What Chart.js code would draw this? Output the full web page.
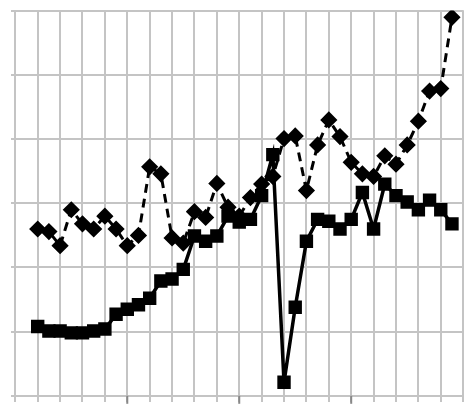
<!DOCTYPE html>
<html><head><meta charset="utf-8">
<script src="https://cdn.jsdelivr.net/npm/chart.js@4/dist/chart.umd.min.js"></script>
<style>html,body{margin:0;padding:0;background:#fff}#w{width:474px;height:412px}</style>
</head><body><div id="w"><canvas id="c"></canvas></div>
<script>
const categories = Array.from({length:38},(_,i)=>i);
const solidSeries = [1.08,1.01,1.01,0.98,0.98,1.01,1.04,1.27,1.35,1.42,1.52,1.79,1.82,1.97,2.49,2.41,2.49,2.80,2.71,2.75,3.12,3.76,0.21,1.38,2.41,2.75,2.72,2.60,2.75,3.17,2.60,3.30,3.12,3.02,2.90,3.05,2.90,2.68];
const dashedSeries = [2.60,2.56,2.34,2.90,2.68,2.60,2.80,2.60,2.34,2.50,3.57,3.46,2.46,2.38,2.87,2.78,3.31,2.94,2.80,3.09,3.30,3.42,4.01,4.05,3.20,3.91,4.30,4.04,3.64,3.46,3.42,3.74,3.61,3.91,4.28,4.75,4.79,5.90];
const majorTicks = [8,18,28];

const tickPlugin = {id:'tk',afterDraw(ch){
  const c=ch.ctx,x=ch.scales.x,y=ch.scales.y;c.save();c.strokeStyle='#888';c.lineWidth=2;
  const y0=y.getPixelForValue(0);
  majorTicks.forEach(t=>{const px=x.getPixelForValue(t);c.beginPath();c.moveTo(px,y0);c.lineTo(px,y0+8);c.stroke();});
  c.restore();}};

new Chart(document.getElementById('c'),{
  type:'line',
  data:{datasets:[
    {data:categories.map((x,i)=>({x,y:dashedSeries[i]})),borderColor:'#000',backgroundColor:'#000',borderWidth:3,borderDash:[9,6],pointStyle:'rectRot',pointRadius:6.5,tension:0},
    {data:categories.map((x,i)=>({x,y:solidSeries[i]})),borderColor:'#000',backgroundColor:'#000',borderWidth:3.5,pointStyle:'rect',pointRadius:7,tension:0}
  ]},
  options:{responsive:true,maintainAspectRatio:false,animation:false,
    layout:{padding:0},
    plugins:{legend:{display:false},tooltip:{enabled:false}},
    scales:{
      x:{type:'linear',min:-2.43,max:38.03,display:true,
        afterBuildTicks(s){s.ticks=[];for(let v=-2;v<=38;v+=2)s.ticks.push({value:v});},
        ticks:{display:false},border:{display:false},
        grid:{color:'#c4c4c4',lineWidth:2,drawTicks:false}},
      y:{min:-0.089,max:6.006,display:true,
        afterBuildTicks(s){s.ticks=[];for(let v=0;v<=6;v++)s.ticks.push({value:v});},
        ticks:{display:false},border:{display:false},
        grid:{color:'#c4c4c4',lineWidth:2,drawTicks:false}}
    }},
  plugins:[tickPlugin]
});
</script></body></html>
